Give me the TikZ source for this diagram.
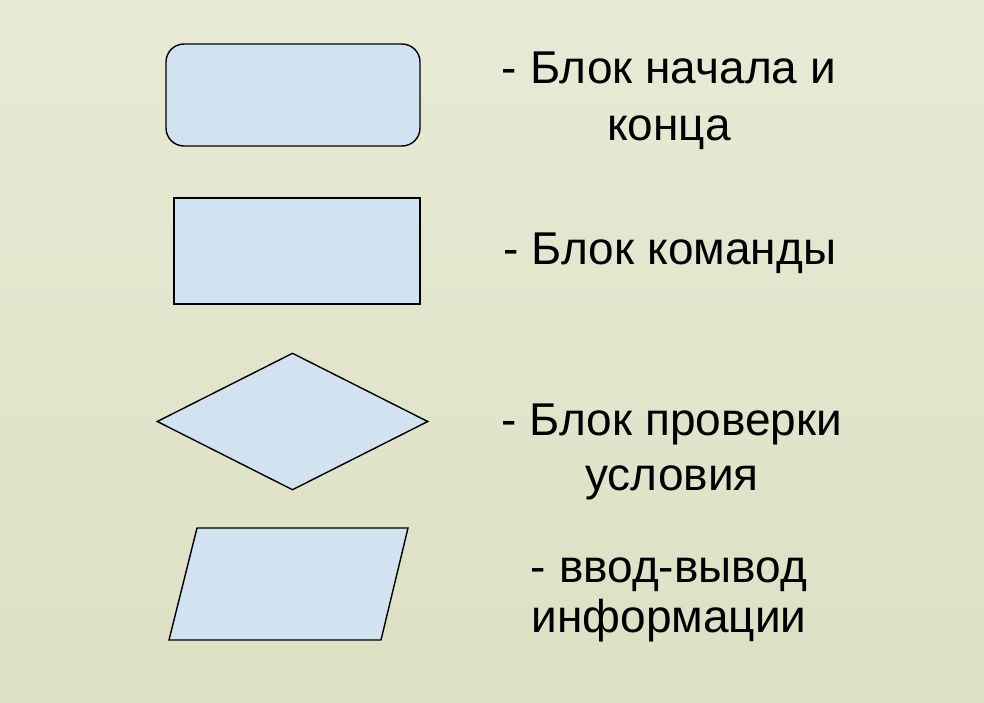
\documentclass[tikz,border=0pt]{standalone}
\usepackage{fontspec}
\setmainfont{Liberation Sans}
\usetikzlibrary{shapes.geometric}

\definecolor{blockfill}{RGB}{209,226,241}
\definecolor{bgtop}{RGB}{231,235,213}
\definecolor{bgbottom}{RGB}{221,224,195}

\tikzset{
    block/.style={draw, line width=1.4pt, fill=blockfill, inner sep=0pt},
    legend/.style={align=center, inner sep=0pt, font=\fontsize{46}{#1}\selectfont},
    legend/.default=57
}

\begin{document}
\begin{tikzpicture}[x=1pt, y=-1pt]
    % slide background
    \shade[top color=bgtop, bottom color=bgbottom] (0,0) rectangle (984,702);
    \useasboundingbox (0,0) rectangle (984,702);

    % the four block shapes
    \path (293, 95) node[block, rounded corners=18pt, minimum width=254pt, minimum height=102pt] (start) {}; % start / end
    \path (297, 251) node[block, minimum width=246pt, minimum height=106pt] (cmd) {}; % command
    \path (292.5, 421.5) node[block, diamond, minimum width=271pt, minimum height=137pt] (cond) {}; % condition
    \draw[block] (197, 528) -- (408, 528) -- (381, 640) -- (169, 640) -- cycle; % input / output

    % captions (base = baseline of the last line)
    \node[legend=57, anchor=base] (startlbl) at (669, 140) {- Блок начала и\\конца};
    \node[legend, anchor=base] (cmdlbl) at (670, 264) {- Блок команды};
    \node[legend=55, anchor=base] (condlbl) at (672, 490) {- Блок проверки\\условия};
    \node[legend=50, anchor=base] (iolbl) at (669, 632) {- ввод-вывод\\информации};
\end{tikzpicture}
\end{document}
